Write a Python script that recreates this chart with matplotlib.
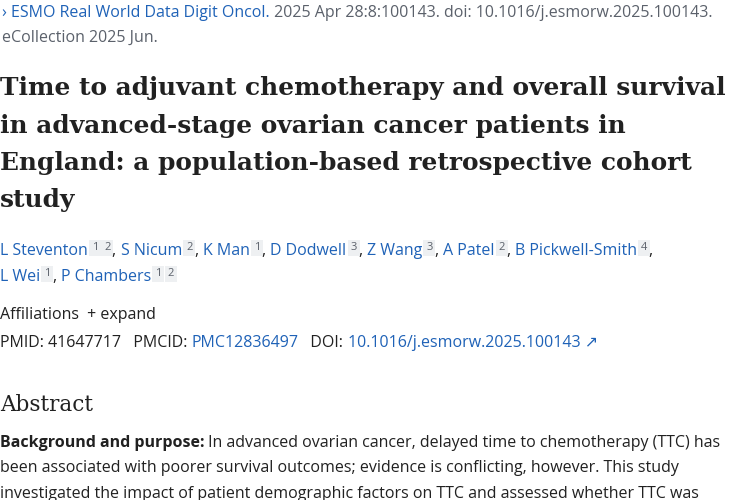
import matplotlib
matplotlib.use("Agg")
import matplotlib.pyplot as plt

BLUE = "#1f62b7"
GRAY = "#5b616b"
BLACK = "#212121"
SANS = ["Open Sans", "DejaVu Sans"]
SERIF = ["DejaVu Serif"]

journal = "ESMO Real World Data Digit Oncol."
citation = " 2025 Apr 28:8:100143. doi: 10.1016/j.esmorw.2025.100143."
ecoll = "eCollection 2025 Jun."
title_lines = ["Time to adjuvant chemotherapy and overall survival",
               "in advanced-stage ovarian cancer patients in",
               "England: a population-based retrospective cohort",
               "study"]
authors1 = [("L Steventon", ["1", "2"]), ("S Nicum", ["2"]), ("K Man", ["1"]),
            ("D Dodwell", ["3"]), ("Z Wang", ["3"]), ("A Patel", ["2"]),
            ("B Pickwell-Smith", ["4"])]
authors2 = [("L Wei", ["1"]), ("P Chambers", ["1", "2"])]
abstract_lines = [
    [("Background and purpose:", BLACK, "bold"), (" In advanced ovarian cancer, delayed time to chemotherapy (TTC) has", BLACK, "normal")],
    [("been associated with poorer survival outcomes; evidence is conflicting, however. This study", BLACK, "normal")],
    [("investigated the impact of patient demographic factors on TTC and assessed whether TTC was", BLACK, "normal")],
]

fig = plt.figure(figsize=(7.5, 5), dpi=100)
fig.patch.set_facecolor("white")
H = 500
renderer = fig.canvas.get_renderer()

def put(x, y, s, color=BLACK, size=11.5, weight="normal", family=SANS):
    t = fig.text(x / 750, 1 - y / H, s, color=color, fontsize=size, fontweight=weight,
                 family=family, va="center", ha="left")
    bb = t.get_window_extent(renderer)
    return x + bb.width

def runs(x, y, items, size=11.5, family=SANS):
    for s, c, w in items:
        x = put(x, y, s, c, size, w, family)
    return x

def sup_box(x, y, s):
    x += 4
    t = fig.text(x / 750, 1 - (y - 3) / H, s, color=GRAY, fontsize=8, family=SANS,
                 va="center", ha="left",
                 bbox=dict(boxstyle="square,pad=0.25", fc="#eef0f2", ec="none"))
    bb = t.get_window_extent(renderer)
    return x + bb.width + 2

x = put(2, 13, "\u203a ", BLUE, 11.5)
x = put(x, 13, journal, BLUE, 11.5)
put(x, 13, citation, GRAY, 11.5)
put(2, 38, ecoll, GRAY, 11.5)

for i, line in enumerate(title_lines):
    put(0, 88 + i * 37.5, line, BLACK, 17.9, "bold", SERIF)

def author_line(y, lst, trailing_comma):
    x = 0
    for k, (name, sups) in enumerate(lst):
        x = put(x, y, name, BLUE, 11.5)
        for s in sups:
            x = sup_box(x, y, s)
        if k < len(lst) - 1 or trailing_comma:
            x = put(x, y, ", ", BLACK, 11.5)

author_line(251, authors1, True)
author_line(277, authors2, False)

x = put(0, 315, "Affiliations ", BLACK, 11.5)
put(x, 315, " + expand", BLACK, 11.5)
x = put(0, 343, "PMID: 41647717   PMCID: ", BLACK, 11.5)
x = put(x, 343, "PMC12836497", BLUE, 11.5)
x = put(x, 343, "   DOI: ", BLACK, 11.5)
x = put(x, 343, "10.1016/j.esmorw.2025.100143 \u2197", BLUE, 11.5)

put(0, 405, "Abstract", BLACK, 15.5, "normal", SERIF)
for i, line in enumerate(abstract_lines):
    runs(0, 443 + i * 25.5, line)

fig.savefig("out.png", dpi=100, facecolor="white")
